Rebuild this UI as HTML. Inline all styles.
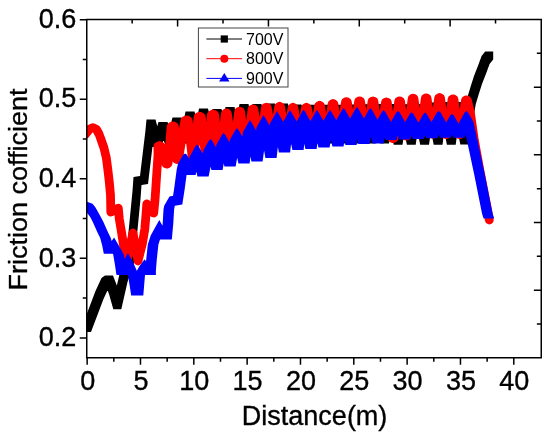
<!DOCTYPE html>
<html><head><meta charset="utf-8"><title>Friction coefficient vs distance</title>
<style>html,body{margin:0;padding:0;background:#fff}body{width:550px;height:438px;overflow:hidden}</style></head>
<body>
<svg width="550" height="438" viewBox="0 0 550 438" style="display:block">
<rect width="550" height="438" fill="#fff"/>
<defs><clipPath id="pc"><rect x="86.5" y="19" width="455" height="339"/></clipPath></defs><g clip-path="url(#pc)">
<path d="M83.0,324.0 95.5,291.0 103.5,291.0 103.5,299.0 91.0,332.0 83.0,332.0ZM95.5,291.0 101.5,278.0 109.5,278.0 109.5,286.0 103.5,299.0 95.5,299.0ZM101.5,278.0 105.0,275.5 113.0,275.5 113.0,283.5 109.5,286.0 101.5,286.0ZM105.0,275.5 113.0,275.5 117.0,286.0 117.0,294.0 109.0,294.0 105.0,283.5ZM109.0,286.0 117.0,286.0 121.3,301.2 121.3,309.2 113.3,309.2 109.0,294.0ZM113.3,301.2 119.5,274.0 127.5,274.0 127.5,282.0 121.3,309.2 113.3,309.2ZM119.5,274.0 126.3,254.0 134.3,254.0 134.3,262.0 127.5,282.0 119.5,282.0ZM126.3,254.0 129.2,225.0 137.2,225.0 137.2,233.0 134.3,262.0 126.3,262.0ZM129.2,225.0 132.5,191.0 140.5,191.0 140.5,199.0 137.2,233.0 129.2,233.0ZM132.5,191.0 133.5,177.0 141.5,177.0 141.5,185.0 140.5,199.0 132.5,199.0ZM133.5,177.0 140.0,176.0 148.0,176.0 148.0,184.0 141.5,185.0 133.5,185.0ZM140.0,176.0 143.0,151.0 151.0,151.0 151.0,159.0 148.0,184.0 140.0,184.0ZM143.0,151.0 145.4,131.0 153.4,131.0 153.4,139.0 151.0,159.0 143.0,159.0ZM145.4,131.0 146.5,119.5 154.5,119.5 154.5,127.5 153.4,139.0 145.4,139.0ZM146.5,119.5 155.0,119.5 155.0,127.5 146.5,127.5ZM147.0,119.5 155.5,119.5 155.5,127.5 147.0,127.5ZM147.5,119.5 155.5,119.5 160.6,139.0 160.6,147.0 152.6,147.0 147.5,127.5ZM152.6,139.0 161.0,139.0 161.0,147.0 152.6,147.0ZM153.0,139.0 161.4,139.0 161.4,147.0 153.0,147.0ZM153.4,139.0 158.5,122.0 166.5,122.0 166.5,130.0 161.4,147.0 153.4,147.0ZM158.5,122.0 167.0,122.0 167.0,130.0 158.5,130.0ZM159.0,122.0 167.5,122.0 167.5,130.0 159.0,130.0ZM159.5,122.0 167.5,122.0 174.2,139.0 174.2,147.0 166.2,147.0 159.5,130.0ZM166.2,139.0 174.6,139.0 174.6,147.0 166.2,147.0ZM166.6,139.0 175.0,139.0 175.0,147.0 166.6,147.0ZM167.0,139.0 172.5,117.6 180.5,117.6 180.5,125.6 175.0,147.0 167.0,147.0ZM172.5,117.6 181.0,117.6 181.0,125.6 172.5,125.6ZM173.0,117.6 181.5,117.6 181.5,125.6 173.0,125.6ZM173.5,117.6 181.5,117.6 188.2,135.5 188.2,143.5 180.2,143.5 173.5,125.6ZM180.2,135.5 188.6,135.5 188.6,143.5 180.2,143.5ZM180.6,135.5 189.0,135.5 189.0,143.5 180.6,143.5ZM181.0,135.5 185.5,111.4 193.5,111.4 193.5,119.4 189.0,143.5 181.0,143.5ZM185.5,111.4 194.0,111.4 194.0,119.4 185.5,119.4ZM186.0,111.4 194.5,111.4 194.5,119.4 186.0,119.4ZM186.5,111.4 194.5,111.4 201.2,135.5 201.2,143.5 193.2,143.5 186.5,119.4ZM193.2,135.5 201.6,135.5 201.6,143.5 193.2,143.5ZM193.6,135.5 202.0,135.5 202.0,143.5 193.6,143.5ZM194.0,135.5 199.0,108.4 207.0,108.4 207.0,116.4 202.0,143.5 194.0,143.5ZM199.0,108.4 207.5,108.4 207.5,116.4 199.0,116.4ZM199.5,108.4 208.0,108.4 208.0,116.4 199.5,116.4ZM200.0,108.4 208.0,108.4 214.7,135.5 214.7,143.5 206.7,143.5 200.0,116.4ZM206.7,135.5 215.1,135.5 215.1,143.5 206.7,143.5ZM207.1,135.5 215.5,135.5 215.5,143.5 207.1,143.5ZM207.5,135.5 212.5,108.9 220.5,108.9 220.5,116.9 215.5,143.5 207.5,143.5ZM212.5,108.9 221.0,108.9 221.0,116.9 212.5,116.9ZM213.0,108.9 221.5,108.9 221.5,116.9 213.0,116.9ZM213.5,108.9 221.5,108.9 228.2,135.5 228.2,143.5 220.2,143.5 213.5,116.9ZM220.2,135.5 228.6,135.5 228.6,143.5 220.2,143.5ZM220.6,135.5 229.0,135.5 229.0,143.5 220.6,143.5ZM221.0,135.5 225.5,107.0 233.5,107.0 233.5,115.0 229.0,143.5 221.0,143.5ZM225.5,107.0 234.0,107.0 234.0,115.0 225.5,115.0ZM226.0,107.0 234.5,107.0 234.5,115.0 226.0,115.0ZM226.5,107.0 234.5,107.0 241.2,135.5 241.2,143.5 233.2,143.5 226.5,115.0ZM233.2,135.5 241.6,135.5 241.6,143.5 233.2,143.5ZM233.6,135.5 242.0,135.5 242.0,143.5 233.6,143.5ZM234.0,135.5 239.5,104.0 247.5,104.0 247.5,112.0 242.0,143.5 234.0,143.5ZM239.5,104.0 248.0,104.0 248.0,112.0 239.5,112.0ZM240.0,104.0 248.5,104.0 248.5,112.0 240.0,112.0ZM240.5,104.0 248.5,104.0 255.2,135.5 255.2,143.5 247.2,143.5 240.5,112.0ZM247.2,135.5 255.6,135.5 255.6,143.5 247.2,143.5ZM247.6,135.5 256.0,135.5 256.0,143.5 247.6,143.5ZM248.0,135.5 252.5,104.0 260.5,104.0 260.5,112.0 256.0,143.5 248.0,143.5ZM252.5,104.0 261.0,104.0 261.0,112.0 252.5,112.0ZM253.0,104.0 261.5,104.0 261.5,112.0 253.0,112.0ZM253.5,104.0 261.5,104.0 268.2,135.5 268.2,143.5 260.2,143.5 253.5,112.0ZM260.2,135.5 268.6,135.5 268.6,143.5 260.2,143.5ZM260.6,135.5 269.0,135.5 269.0,143.5 260.6,143.5ZM261.0,135.5 266.0,103.4 274.0,103.4 274.0,111.4 269.0,143.5 261.0,143.5ZM266.0,103.4 274.5,103.4 274.5,111.4 266.0,111.4ZM266.5,103.4 275.0,103.4 275.0,111.4 266.5,111.4ZM267.0,103.4 275.0,103.4 281.7,135.5 281.7,143.5 273.7,143.5 267.0,111.4ZM273.7,135.5 282.1,135.5 282.1,143.5 273.7,143.5ZM274.1,135.5 282.5,135.5 282.5,143.5 274.1,143.5ZM274.5,135.5 279.0,103.4 287.0,103.4 287.0,111.4 282.5,143.5 274.5,143.5ZM279.0,103.4 287.5,103.4 287.5,111.4 279.0,111.4ZM279.5,103.4 288.0,103.4 288.0,111.4 279.5,111.4ZM280.0,103.4 288.0,103.4 294.7,135.5 294.7,143.5 286.7,143.5 280.0,111.4ZM286.7,135.5 295.1,135.5 295.1,143.5 286.7,143.5ZM287.1,135.5 295.5,135.5 295.5,143.5 287.1,143.5ZM287.5,135.5 292.5,104.4 300.5,104.4 300.5,112.4 295.5,143.5 287.5,143.5ZM292.5,104.4 301.0,104.4 301.0,112.4 292.5,112.4ZM293.0,104.4 301.5,104.4 301.5,112.4 293.0,112.4ZM293.5,104.4 301.5,104.4 308.2,135.5 308.2,143.5 300.2,143.5 293.5,112.4ZM300.2,135.5 308.6,135.5 308.6,143.5 300.2,143.5ZM300.6,135.5 309.0,135.5 309.0,143.5 300.6,143.5ZM301.0,135.5 306.0,104.7 314.0,104.7 314.0,112.7 309.0,143.5 301.0,143.5ZM306.0,104.7 314.5,104.7 314.5,112.7 306.0,112.7ZM306.5,104.7 315.0,104.7 315.0,112.7 306.5,112.7ZM307.0,104.7 315.0,104.7 321.7,135.5 321.7,143.5 313.7,143.5 307.0,112.7ZM313.7,135.5 322.1,135.5 322.1,143.5 313.7,143.5ZM314.1,135.5 322.5,135.5 322.5,143.5 314.1,143.5ZM314.5,135.5 319.2,104.7 327.2,104.7 327.2,112.7 322.5,143.5 314.5,143.5ZM319.2,104.7 327.7,104.7 327.7,112.7 319.2,112.7ZM319.7,104.7 328.2,104.7 328.2,112.7 319.7,112.7ZM320.2,104.7 328.2,104.7 334.9,135.5 334.9,143.5 326.9,143.5 320.2,112.7ZM326.9,135.5 335.3,135.5 335.3,143.5 326.9,143.5ZM327.3,135.5 335.7,135.5 335.7,143.5 327.3,143.5ZM327.7,135.5 332.5,104.7 340.5,104.7 340.5,112.7 335.7,143.5 327.7,143.5ZM332.5,104.7 341.0,104.7 341.0,112.7 332.5,112.7ZM333.0,104.7 341.5,104.7 341.5,112.7 333.0,112.7ZM333.5,104.7 341.5,104.7 348.2,135.5 348.2,143.5 340.2,143.5 333.5,112.7ZM340.2,135.5 348.6,135.5 348.6,143.5 340.2,143.5ZM340.6,135.5 349.0,135.5 349.0,143.5 340.6,143.5ZM341.0,135.5 346.0,104.5 354.0,104.5 354.0,112.5 349.0,143.5 341.0,143.5ZM346.0,104.5 354.5,104.5 354.5,112.5 346.0,112.5ZM346.5,104.5 355.0,104.5 355.0,112.5 346.5,112.5ZM347.0,104.5 355.0,104.5 361.7,135.5 361.7,143.5 353.7,143.5 347.0,112.5ZM353.7,135.5 362.1,135.5 362.1,143.5 353.7,143.5ZM354.1,135.5 362.5,135.5 362.5,143.5 354.1,143.5ZM354.5,135.5 359.2,104.2 367.2,104.2 367.2,112.2 362.5,143.5 354.5,143.5ZM359.2,104.2 367.7,104.2 367.7,112.2 359.2,112.2ZM359.7,104.2 368.2,104.2 368.2,112.2 359.7,112.2ZM360.2,104.2 368.2,104.2 374.9,135.5 374.9,143.5 366.9,143.5 360.2,112.2ZM366.9,135.5 375.3,135.5 375.3,143.5 366.9,143.5ZM367.3,135.5 375.7,135.5 375.7,143.5 367.3,143.5ZM367.7,135.5 372.5,104.0 380.5,104.0 380.5,112.0 375.7,143.5 367.7,143.5ZM372.5,104.0 381.0,104.0 381.0,112.0 372.5,112.0ZM373.0,104.0 381.5,104.0 381.5,112.0 373.0,112.0ZM373.5,104.0 381.5,104.0 388.2,135.5 388.2,143.5 380.2,143.5 373.5,112.0ZM380.2,135.5 388.6,135.5 388.6,143.5 380.2,143.5ZM380.6,135.5 389.0,135.5 389.0,143.5 380.6,143.5ZM381.0,135.5 386.0,104.0 394.0,104.0 394.0,112.0 389.0,143.5 381.0,143.5ZM386.0,104.0 394.5,104.0 394.5,112.0 386.0,112.0ZM386.5,104.0 395.0,104.0 395.0,112.0 386.5,112.0ZM387.0,104.0 395.0,104.0 401.7,136.8 401.7,144.8 393.7,144.8 387.0,112.0ZM393.7,136.8 402.1,136.8 402.1,144.8 393.7,144.8ZM394.1,136.8 402.5,136.8 402.5,144.8 394.1,144.8ZM394.5,136.8 399.2,104.3 407.2,104.3 407.2,112.3 402.5,144.8 394.5,144.8ZM399.2,104.3 407.7,104.3 407.7,112.3 399.2,112.3ZM399.7,104.3 408.2,104.3 408.2,112.3 399.7,112.3ZM400.2,104.3 408.2,104.3 414.9,136.8 414.9,144.8 406.9,144.8 400.2,112.3ZM406.9,136.8 415.3,136.8 415.3,144.8 406.9,144.8ZM407.3,136.8 415.7,136.8 415.7,144.8 407.3,144.8ZM407.7,136.8 412.5,104.0 420.5,104.0 420.5,112.0 415.7,144.8 407.7,144.8ZM412.5,104.0 421.0,104.0 421.0,112.0 412.5,112.0ZM413.0,104.0 421.5,104.0 421.5,112.0 413.0,112.0ZM413.5,104.0 421.5,104.0 428.2,136.8 428.2,144.8 420.2,144.8 413.5,112.0ZM420.2,136.8 428.6,136.8 428.6,144.8 420.2,144.8ZM420.6,136.8 429.0,136.8 429.0,144.8 420.6,144.8ZM421.0,136.8 426.0,102.5 434.0,102.5 434.0,110.5 429.0,144.8 421.0,144.8ZM426.0,102.5 434.5,102.5 434.5,110.5 426.0,110.5ZM426.5,102.5 435.0,102.5 435.0,110.5 426.5,110.5ZM427.0,102.5 435.0,102.5 441.7,136.8 441.7,144.8 433.7,144.8 427.0,110.5ZM433.7,136.8 442.1,136.8 442.1,144.8 433.7,144.8ZM434.1,136.8 442.5,136.8 442.5,144.8 434.1,144.8ZM434.5,136.8 439.2,102.0 447.2,102.0 447.2,110.0 442.5,144.8 434.5,144.8ZM439.2,102.0 447.7,102.0 447.7,110.0 439.2,110.0ZM439.7,102.0 448.2,102.0 448.2,110.0 439.7,110.0ZM440.2,102.0 448.2,102.0 454.9,136.8 454.9,144.8 446.9,144.8 440.2,110.0ZM446.9,136.8 455.3,136.8 455.3,144.8 446.9,144.8ZM447.3,136.8 455.7,136.8 455.7,144.8 447.3,144.8ZM447.7,136.8 452.5,102.0 460.5,102.0 460.5,110.0 455.7,144.8 447.7,144.8ZM452.5,102.0 461.0,102.0 461.0,110.0 452.5,110.0ZM453.0,102.0 461.5,102.0 461.5,110.0 453.0,110.0ZM453.5,102.0 461.5,102.0 468.3,136.5 468.3,144.5 460.3,144.5 453.5,110.0ZM460.3,136.5 468.7,136.5 468.7,144.5 460.3,144.5ZM460.7,136.5 469.1,136.5 469.1,144.5 460.7,144.5ZM461.1,136.5 464.3,116.0 472.3,116.0 472.3,124.0 469.1,144.5 461.1,144.5ZM464.3,116.0 467.8,96.0 475.8,96.0 475.8,104.0 472.3,124.0 464.3,124.0ZM467.8,96.0 470.8,86.0 478.8,86.0 478.8,94.0 475.8,104.0 467.8,104.0ZM470.8,86.0 474.0,76.0 482.0,76.0 482.0,84.0 478.8,94.0 470.8,94.0ZM474.0,76.0 477.9,66.0 485.9,66.0 485.9,74.0 482.0,84.0 474.0,84.0ZM477.9,66.0 481.6,56.0 489.6,56.0 489.6,64.0 485.9,74.0 477.9,74.0ZM481.6,56.0 485.2,51.4 493.2,51.4 493.2,59.4 489.6,64.0 481.6,64.0Z" fill="#000"/>
<polyline points="85.0,135.0 87.0,132.3 89.5,129.0 93.0,127.7 96.5,129.5 99.0,134.0 100.6,138.2 103.9,147.7 106.3,157.7 107.9,170.0 109.3,182.0 110.5,195.0 110.8,212.0 118.3,208.2 119.3,219.0 121.5,232.0 123.5,245.0 125.5,258.0 127.0,260.0 133.0,233.0 138.0,261.0 142.3,244.0 144.8,229.0 146.0,215.0 146.8,204.0 153.7,213.0 155.0,200.0 156.0,185.0 157.0,170.0 158.0,155.0 157.9,146.2 159.5,145.5 161.1,146.2 166.0,163.7 167.0,164.0 168.0,163.7 171.2,126.5 172.8,125.8 174.4,126.5 176.5,159.3 177.5,159.6 178.5,159.3 184.9,120.5 186.5,119.8 188.1,120.5 192.1,156.7 193.1,157.0 194.1,156.7 198.1,117.0 199.7,116.2 201.3,117.0 205.3,154.7 206.3,155.0 207.3,154.7 211.4,114.7 213.0,114.0 214.6,114.7 218.6,152.7 219.6,153.0 220.6,152.7 225.5,113.2 226.4,112.8 227.3,113.2 232.0,150.7 233.0,151.0 234.0,150.7 238.7,111.6 239.6,111.2 240.5,111.6 245.2,147.0 246.2,147.3 247.2,147.0 252.1,109.2 253.0,108.8 253.9,109.2 258.6,141.2 259.6,141.5 260.6,141.2 265.5,107.6 266.4,107.2 267.3,107.6 272.0,136.9 273.0,137.2 274.0,136.9 278.7,106.8 279.6,106.3 280.5,106.8 285.2,135.0 286.2,135.3 287.2,135.0 292.1,107.8 293.0,107.3 293.9,107.8 298.6,134.4 299.6,134.7 300.6,134.4 305.5,107.8 306.4,107.3 307.3,107.8 312.0,134.6 313.0,134.9 314.0,134.6 318.7,105.8 319.6,105.3 320.5,105.8 325.2,134.7 326.2,135.0 327.2,134.7 332.1,103.9 333.0,103.5 333.9,103.9 338.6,133.3 339.6,133.6 340.6,133.3 345.5,102.0 346.4,101.6 347.3,102.0 352.0,132.0 353.0,132.3 354.0,132.0 358.7,101.2 359.6,100.8 360.5,101.2 365.2,132.4 366.2,132.7 367.2,132.4 372.1,101.3 373.0,100.9 373.9,101.3 378.6,134.1 379.6,134.4 380.6,134.1 385.5,102.3 386.4,101.9 387.3,102.3 392.0,138.2 393.0,138.5 394.0,138.2 398.7,101.2 399.6,100.8 400.5,101.2 405.2,135.7 406.2,136.0 407.2,135.7 412.2,98.7 413.1,98.2 414.0,98.7 418.7,134.4 419.7,134.8 420.7,134.4 425.3,98.2 426.2,97.8 427.1,98.2 431.8,133.9 432.8,134.2 433.8,133.9 438.7,97.9 439.6,97.5 440.5,97.9 445.2,134.2 446.2,134.5 447.2,134.2 452.1,99.2 453.0,98.8 453.9,99.2 458.6,134.2 459.6,134.5 460.6,134.2 465.5,100.2 466.4,99.8 467.3,100.2 470.3,112.0 474.3,140.0 479.8,170.0 487.6,210.0 489.3,220.0" fill="none" stroke="#f00" stroke-width="8.8" stroke-linecap="round" stroke-linejoin="round"/>
<path d="M78.7,210.2 84.0,200.9 87.0,201.7 92.3,211.0 81.7,211.0ZM81.7,211.0 87.0,201.7 92.5,203.8 97.8,213.1 87.2,213.1ZM87.2,213.1 92.5,203.8 95.5,207.6 100.8,216.9 90.2,216.9ZM90.2,216.9 95.5,207.6 100.8,216.9 103.3,221.7 92.7,221.7ZM92.7,221.7 98.0,212.4 103.3,221.7 108.2,232.7 97.6,232.7ZM97.6,232.7 102.9,223.4 108.2,232.7 110.8,237.9 100.2,237.9ZM100.2,237.9 105.5,228.6 110.8,237.9 112.8,245.4 102.2,245.4ZM102.2,245.4 107.5,236.1 112.8,245.4 114.4,253.8 103.8,253.8ZM103.8,253.8 109.1,244.5 114.1,237.4 119.4,246.7 114.4,253.8ZM108.8,246.7 114.1,237.4 118.5,245.1 123.8,254.4 113.2,254.4ZM113.2,254.4 118.5,245.1 123.8,254.4 125.7,265.7 115.1,265.7ZM115.1,265.7 120.4,256.4 125.7,265.7 127.0,274.8 116.4,274.8ZM116.4,274.8 121.7,265.5 123.0,265.8 128.3,275.1 117.7,275.1ZM117.7,275.1 122.6,262.4 127.9,253.1 133.2,262.4 128.3,275.1ZM122.6,262.4 127.9,253.1 133.2,262.4 138.6,275.0 128.0,275.0ZM128.0,275.0 133.3,265.7 138.6,275.0 141.8,295.4 131.2,295.4ZM131.2,295.4 136.5,286.1 138.0,286.1 143.3,295.4ZM132.7,295.4 134.4,275.0 139.7,265.7 145.0,275.0 143.3,295.4ZM134.4,275.0 139.7,265.7 144.6,259.2 149.9,268.5 145.0,275.0ZM139.3,268.5 144.6,259.2 149.0,265.8 154.3,275.1 143.7,275.1ZM143.7,275.1 149.0,265.8 150.6,265.8 155.9,275.1ZM145.3,270.4 150.6,261.1 155.9,270.4 155.9,275.1 145.3,275.1ZM145.3,270.4 146.2,259.4 151.5,250.1 156.8,259.4 155.9,270.4ZM146.2,259.4 147.8,244.4 153.1,235.1 158.4,244.4 156.8,259.4ZM147.8,244.4 150.7,235.4 156.0,226.1 161.3,235.4 158.4,244.4ZM150.7,235.4 154.0,229.4 159.3,220.1 164.6,229.4 161.3,235.4ZM154.0,229.4 159.3,220.1 164.6,229.4 169.8,239.6 159.2,239.6ZM159.2,239.6 164.5,230.3 166.5,230.3 171.8,239.6ZM161.2,239.6 162.7,223.4 168.0,214.1 173.3,223.4 171.8,239.6ZM162.7,223.4 163.5,209.4 168.8,200.1 174.1,209.4 173.3,223.4ZM163.5,209.4 164.2,205.8 169.5,196.5 174.8,205.8 174.1,209.4ZM164.2,205.8 169.5,196.5 177.0,195.1 182.3,204.4 174.8,205.8ZM171.7,204.4 174.1,188.9 179.4,179.6 184.7,188.9 182.3,204.4ZM174.1,188.9 176.7,169.4 182.0,160.1 187.3,169.4 184.7,188.9ZM176.7,169.4 178.0,163.8 183.3,154.5 188.6,163.8 187.3,169.4ZM178.0,163.8 183.3,154.5 185.0,153.5 190.3,162.8 188.6,163.8ZM179.7,162.8 185.0,153.5 186.7,154.5 192.0,163.8 181.4,163.8ZM181.4,163.8 186.7,154.5 192.0,163.8 195.0,175.0 184.4,175.0ZM184.4,175.0 189.7,165.7 190.0,165.7 195.3,175.0ZM184.7,175.0 190.0,165.7 190.3,165.7 195.6,175.0ZM185.0,175.0 190.0,155.7 195.3,146.4 200.6,155.7 195.6,175.0ZM190.0,155.7 195.3,146.4 197.0,144.6 202.3,153.9 200.6,155.7ZM191.7,153.9 197.0,144.6 198.7,146.4 204.0,155.7 193.4,155.7ZM193.4,155.7 198.7,146.4 204.0,155.7 208.0,176.4 197.4,176.4ZM197.4,176.4 202.7,167.1 203.0,167.1 208.3,176.4ZM197.7,176.4 203.0,167.1 203.3,167.1 208.6,176.4ZM198.0,176.4 203.5,150.0 208.8,140.7 214.1,150.0 208.6,176.4ZM203.5,150.0 208.8,140.7 210.5,139.0 215.8,148.3 214.1,150.0ZM205.2,148.3 210.5,139.0 212.2,140.7 217.5,150.0 206.9,150.0ZM206.9,150.0 212.2,140.7 217.5,150.0 222.0,170.0 211.4,170.0ZM211.4,170.0 216.7,160.7 217.0,160.7 222.3,170.0ZM211.7,170.0 217.0,160.7 217.3,160.7 222.6,170.0ZM212.0,170.0 216.6,144.2 221.9,134.9 227.2,144.2 222.6,170.0ZM216.6,144.2 221.9,134.9 223.6,133.0 228.9,142.3 227.2,144.2ZM218.3,142.3 223.6,133.0 225.3,134.9 230.6,144.2 220.0,144.2ZM220.0,144.2 225.3,134.9 230.6,144.2 235.0,166.4 224.4,166.4ZM224.4,166.4 229.7,157.1 230.0,157.1 235.3,166.4ZM224.7,166.4 230.0,157.1 230.3,157.1 235.6,166.4ZM225.0,166.4 230.0,139.6 235.3,130.3 240.6,139.6 235.6,166.4ZM230.0,139.6 235.3,130.3 237.0,128.0 242.3,137.3 240.6,139.6ZM231.7,137.3 237.0,128.0 238.7,130.3 244.0,139.6 233.4,139.6ZM233.4,139.6 238.7,130.3 244.0,139.6 249.0,163.6 238.4,163.6ZM238.4,163.6 243.7,154.3 244.0,154.3 249.3,163.6ZM238.7,163.6 244.0,154.3 244.3,154.3 249.6,163.6ZM239.0,163.6 243.0,132.0 248.3,122.7 253.6,132.0 249.6,163.6ZM243.0,132.0 248.3,122.7 250.0,120.0 255.3,129.3 253.6,132.0ZM244.7,129.3 250.0,120.0 251.7,122.7 257.0,132.0 246.4,132.0ZM246.4,132.0 251.7,122.7 257.0,132.0 262.0,161.6 251.4,161.6ZM251.4,161.6 256.7,152.3 257.0,152.3 262.3,161.6ZM251.7,161.6 257.0,152.3 257.3,152.3 262.6,161.6ZM252.0,161.6 256.6,127.3 261.9,118.0 267.2,127.3 262.6,161.6ZM256.6,127.3 258.3,124.3 263.6,115.0 268.9,124.3 267.2,127.3ZM258.3,124.3 263.6,115.0 268.9,124.3 270.6,127.3 260.0,127.3ZM260.0,127.3 265.3,118.0 270.6,127.3 276.0,158.0 265.4,158.0ZM265.4,158.0 270.7,148.7 271.0,148.7 276.3,158.0ZM265.7,158.0 271.0,148.7 271.3,148.7 276.6,158.0ZM266.0,158.0 270.0,123.3 275.3,114.0 280.6,123.3 276.6,158.0ZM270.0,123.3 271.7,120.3 277.0,111.0 282.3,120.3 280.6,123.3ZM271.7,120.3 277.0,111.0 282.3,120.3 284.0,123.3 273.4,123.3ZM273.4,123.3 278.7,114.0 284.0,123.3 289.5,152.5 278.9,152.5ZM278.9,152.5 284.2,143.2 284.5,143.2 289.8,152.5ZM279.2,152.5 284.5,143.2 284.8,143.2 290.1,152.5ZM279.5,152.5 283.0,122.0 288.3,112.7 293.6,122.0 290.1,152.5ZM283.0,122.0 288.3,112.7 290.0,110.0 295.3,119.3 293.6,122.0ZM284.7,119.3 290.0,110.0 291.7,112.7 297.0,122.0 286.4,122.0ZM286.4,122.0 291.7,112.7 297.0,122.0 303.0,150.0 292.4,150.0ZM292.4,150.0 297.7,140.7 298.0,140.7 303.3,150.0ZM292.7,150.0 298.0,140.7 298.3,140.7 303.6,150.0ZM293.0,150.0 296.6,121.4 301.9,112.1 307.2,121.4 303.6,150.0ZM296.6,121.4 301.9,112.1 303.6,109.6 308.9,118.9 307.2,121.4ZM298.3,118.9 303.6,109.6 305.3,112.1 310.6,121.4 300.0,121.4ZM300.0,121.4 305.3,112.1 310.6,121.4 316.0,149.0 305.4,149.0ZM305.4,149.0 310.7,139.7 311.0,139.7 316.3,149.0ZM305.7,149.0 311.0,139.7 311.3,139.7 316.6,149.0ZM306.0,149.0 310.0,121.7 315.3,112.4 320.6,121.7 316.6,149.0ZM310.0,121.7 315.3,112.4 317.0,110.0 322.3,119.3 320.6,121.7ZM311.7,119.3 317.0,110.0 318.7,112.4 324.0,121.7 313.4,121.7ZM313.4,121.7 318.7,112.4 324.0,121.7 329.0,147.6 318.4,147.6ZM318.4,147.6 323.7,138.3 324.0,138.3 329.3,147.6ZM318.7,147.6 324.0,138.3 324.3,138.3 329.6,147.6ZM319.0,147.6 323.0,121.6 328.3,112.3 333.6,121.6 329.6,147.6ZM323.0,121.6 328.3,112.3 330.0,110.0 335.3,119.3 333.6,121.6ZM324.7,119.3 330.0,110.0 331.7,112.3 337.0,121.6 326.4,121.6ZM326.4,121.6 331.7,112.3 337.0,121.6 343.0,146.4 332.4,146.4ZM332.4,146.4 337.7,137.1 338.0,137.1 343.3,146.4ZM332.7,146.4 338.0,137.1 338.3,137.1 343.6,146.4ZM333.0,146.4 336.6,119.6 341.9,110.3 347.2,119.6 343.6,146.4ZM336.6,119.6 341.9,110.3 343.6,108.0 348.9,117.3 347.2,119.6ZM338.3,117.3 343.6,108.0 345.3,110.3 350.6,119.6 340.0,119.6ZM340.0,119.6 345.3,110.3 350.6,119.6 356.0,145.0 345.4,145.0ZM345.4,145.0 350.7,135.7 351.0,135.7 356.3,145.0ZM345.7,145.0 351.0,135.7 351.3,135.7 356.6,145.0ZM346.0,145.0 350.0,118.6 355.3,109.3 360.6,118.6 356.6,145.0ZM350.0,118.6 355.3,109.3 357.0,107.0 362.3,116.3 360.6,118.6ZM351.7,116.3 357.0,107.0 358.7,109.3 364.0,118.6 353.4,118.6ZM353.4,118.6 358.7,109.3 364.0,118.6 369.0,144.0 358.4,144.0ZM358.4,144.0 363.7,134.7 364.0,134.7 369.3,144.0ZM358.7,144.0 364.0,134.7 364.3,134.7 369.6,144.0ZM359.0,144.0 363.4,119.4 368.7,110.1 374.0,119.4 369.6,144.0ZM363.4,119.4 368.7,110.1 370.4,108.0 375.7,117.3 374.0,119.4ZM365.1,117.3 370.4,108.0 372.1,110.1 377.4,119.4 366.8,119.4ZM366.8,119.4 372.1,110.1 377.4,119.4 383.0,143.6 372.4,143.6ZM372.4,143.6 377.7,134.3 378.0,134.3 383.3,143.6ZM372.7,143.6 378.0,134.3 378.3,134.3 383.6,143.6ZM373.0,143.6 376.6,121.2 381.9,111.9 387.2,121.2 383.6,143.6ZM376.6,121.2 381.9,111.9 383.6,110.0 388.9,119.3 387.2,121.2ZM378.3,119.3 383.6,110.0 385.3,111.9 390.6,121.2 380.0,121.2ZM380.0,121.2 385.3,111.9 390.6,121.2 396.0,140.0 385.4,140.0ZM385.4,140.0 390.7,130.7 391.0,130.7 396.3,140.0ZM385.7,140.0 391.0,130.7 391.3,130.7 396.6,140.0ZM386.0,140.0 391.0,121.7 396.3,112.4 401.6,121.7 396.6,140.0ZM391.0,121.7 396.3,112.4 398.0,110.9 403.3,120.2 401.6,121.7ZM392.7,120.2 398.0,110.9 399.7,112.4 405.0,121.7 394.4,121.7ZM394.4,121.7 399.7,112.4 405.0,121.7 409.7,139.5 399.1,139.5ZM399.1,139.5 404.4,130.2 404.7,130.2 410.0,139.5ZM399.4,139.5 404.7,130.2 405.0,130.2 410.3,139.5ZM399.7,139.5 404.6,123.0 409.9,113.7 415.2,123.0 410.3,139.5ZM404.6,123.0 409.9,113.7 411.6,112.3 416.9,121.6 415.2,123.0ZM406.3,121.6 411.6,112.3 413.3,113.7 418.6,123.0 408.0,123.0ZM408.0,123.0 413.3,113.7 418.6,123.0 423.3,139.0 412.7,139.0ZM412.7,139.0 418.0,129.7 418.3,129.7 423.6,139.0ZM413.0,139.0 418.3,129.7 418.6,129.7 423.9,139.0ZM413.3,139.0 418.1,123.2 423.4,113.9 428.7,123.2 423.9,139.0ZM418.1,123.2 423.4,113.9 425.1,112.6 430.4,121.9 428.7,123.2ZM419.8,121.9 425.1,112.6 426.8,113.9 432.1,123.2 421.5,123.2ZM421.5,123.2 426.8,113.9 432.1,123.2 436.8,138.3 426.2,138.3ZM426.2,138.3 431.5,129.0 431.8,129.0 437.1,138.3ZM426.5,138.3 431.8,129.0 432.1,129.0 437.4,138.3ZM426.8,138.3 431.7,121.6 437.0,112.3 442.3,121.6 437.4,138.3ZM431.7,121.6 437.0,112.3 438.7,110.9 444.0,120.2 442.3,121.6ZM433.4,120.2 438.7,110.9 440.4,112.3 445.7,121.6 435.1,121.6ZM435.1,121.6 440.4,112.3 445.7,121.6 450.3,137.8 439.7,137.8ZM439.7,137.8 445.0,128.5 445.3,128.5 450.6,137.8ZM440.0,137.8 445.3,128.5 445.6,128.5 450.9,137.8ZM440.3,137.8 445.0,124.5 450.3,115.2 455.6,124.5 450.9,137.8ZM445.0,124.5 450.3,115.2 452.0,114.0 457.3,123.3 455.6,124.5ZM446.7,123.3 452.0,114.0 453.7,115.2 459.0,124.5 448.4,124.5ZM448.4,124.5 453.7,115.2 459.0,124.5 464.0,137.8 453.4,137.8ZM453.4,137.8 458.7,128.5 459.0,128.5 464.3,137.8ZM453.7,137.8 459.0,128.5 459.3,128.5 464.6,137.8ZM454.0,137.8 459.4,121.7 464.7,112.4 470.0,121.7 464.6,137.8ZM459.4,121.7 464.7,112.4 466.4,111.0 471.7,120.3 470.0,121.7ZM461.1,120.3 466.4,111.0 468.1,112.4 473.4,121.7 462.8,121.7ZM462.8,121.7 468.1,112.4 473.4,121.7 478.2,143.4 467.6,143.4ZM467.6,143.4 472.9,134.1 478.2,143.4 484.6,173.4 474.0,173.4ZM474.0,173.4 479.3,164.1 484.6,173.4 492.6,213.4 482.0,213.4ZM482.0,213.4 487.3,204.1 492.6,213.4 494.2,218.4 483.6,218.4Z" fill="#00f"/>
</g>
<rect x="86.75" y="19.5" width="454.5" height="338.25" fill="none" stroke="#000" stroke-width="1.5"/>
<path d="M87.15,357.75v7M113.82,357.75v4M140.48,357.75v7M167.15,357.75v4M193.81,357.75v7M220.48,357.75v4M247.14,357.75v7M273.81,357.75v4M300.47,357.75v7M327.14,357.75v4M353.80,357.75v7M380.47,357.75v4M407.13,357.75v7M433.80,357.75v4M460.46,357.75v7M487.13,357.75v4M513.79,357.75v7M86.75,19.70h-7M86.75,59.40h-4M86.75,99.25h-7M86.75,138.95h-4M86.75,178.80h-7M86.75,218.50h-4M86.75,258.35h-7M86.75,298.05h-4M86.75,337.90h-7M132.17,19.5v4M177.59,19.5v7M223.01,19.5v4M268.43,19.5v7M313.85,19.5v4M359.27,19.5v7M404.69,19.5v4M450.11,19.5v7M495.53,19.5v4M541.25,53.33h-4.4M541.25,87.16h-7.4M541.25,120.99h-4.4M541.25,154.82h-7.4M541.25,188.65h-4.4M541.25,222.48h-7.4M541.25,256.31h-4.4M541.25,290.14h-7.4M541.25,323.97h-4.4" stroke="#000" stroke-width="1.5" fill="none"/>
<g font-family="Liberation Sans, Arial, sans-serif" font-size="27" fill="#000" stroke="#000" stroke-width="0.35">
<text x="76.2" y="27.5" text-anchor="end">0.6</text>
<text x="76.2" y="107.2" text-anchor="end">0.5</text>
<text x="76.2" y="187.0" text-anchor="end">0.4</text>
<text x="76.2" y="266.7" text-anchor="end">0.3</text>
<text x="76.2" y="346.4" text-anchor="end">0.2</text>
<text x="87.7" y="390.3" text-anchor="middle">0</text>
<text x="141.0" y="390.3" text-anchor="middle">5</text>
<text x="194.3" y="390.3" text-anchor="middle">10</text>
<text x="247.6" y="390.3" text-anchor="middle">15</text>
<text x="301.0" y="390.3" text-anchor="middle">20</text>
<text x="354.3" y="390.3" text-anchor="middle">25</text>
<text x="407.6" y="390.3" text-anchor="middle">30</text>
<text x="461.0" y="390.3" text-anchor="middle">35</text>
<text x="514.3" y="390.3" text-anchor="middle">40</text>
<text x="314.6" y="425.3" text-anchor="middle">Distance(m)</text>
<text transform="translate(26.7,189.5) rotate(-90) scale(1,0.945)" text-anchor="middle">Friction cofficient</text>
</g>
<rect x="198.4" y="28" width="89.6" height="59" fill="#fff" stroke="#444" stroke-width="1"/>
<g font-family="Liberation Sans, Arial, sans-serif" font-size="16" fill="#000">
<path d="M206.4,39.0H242" stroke="#000" stroke-width="1"/>
<rect x="220.7" y="35.4" width="7.2" height="7.2" fill="#000"/>
<text x="246" y="44.6">700V</text>
<path d="M206.4,58.7H242" stroke="#f00" stroke-width="1"/>
<circle cx="224.3" cy="58.7" r="4.0" fill="#f00"/>
<text x="246" y="64.3">800V</text>
<path d="M206.4,78.4H242" stroke="#00f" stroke-width="1"/>
<path d="M224.3,72.9l5.2,8.7h-10.4z" fill="#00f"/>
<text x="246" y="84.0">900V</text>
</g>
</svg>
</body></html>
